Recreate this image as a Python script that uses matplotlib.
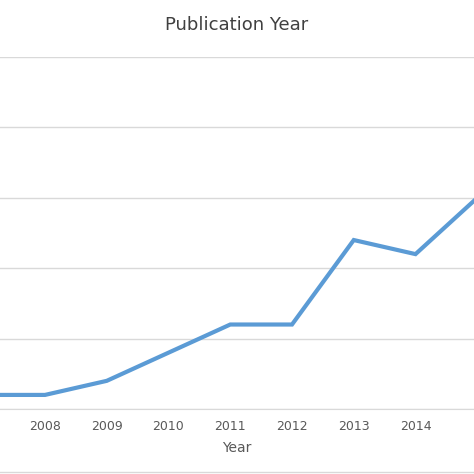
import matplotlib
matplotlib.use('Agg')
import matplotlib.pyplot as plt

years = [2007, 2008, 2009, 2010, 2011, 2012, 2013, 2014, 2015]
counts = [2, 2, 4, 8, 12, 12, 24, 22, 30]
tick_years = years[1:]

fig = plt.figure(figsize=(4.74, 4.74), dpi=100)
ax = fig.add_axes([0, 65 / 474, 1, 352 / 474])
ax.plot(years, counts, color='#5B9BD5', lw=3.0, solid_joinstyle='miter', clip_on=False)
ax.set_xticks(tick_years)
ax.set_xticklabels([str(y) for y in tick_years])
ax.set_yticks(range(0, 51, 10))
ax.set_xlim(2008 - 45 / 61.75, 2008 + (474 - 45) / 61.75)
ax.set_ylim(0, 50)
ax.grid(axis='y', color='#D9D9D9', lw=1)
ax.set_axisbelow(True)
for s in ['top', 'left', 'right']:
    ax.spines[s].set_visible(False)
ax.spines['bottom'].set_color('#D9D9D9')
ax.tick_params(axis='x', length=0, labelsize=9, colors='#595959', pad=8)
ax.tick_params(axis='y', length=0, labelleft=False)
ax.set_xlabel('Year', fontsize=10, color='#595959', labelpad=6)
fig.text(0.5, 1 - 25 / 474, 'Publication Year', ha='center', va='center',
         fontsize=13, color='#404040')
fig.add_artist(plt.Line2D([0, 1], [2 / 474, 2 / 474], color='#D9D9D9', lw=1))
fig.savefig('out.png', dpi=100)
